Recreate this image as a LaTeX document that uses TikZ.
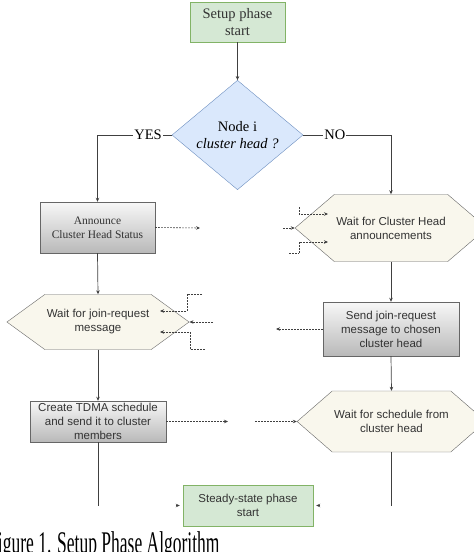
\documentclass[tikz,border=0pt]{standalone}
\usepackage{fontspec}
\setmainfont{Liberation Serif}
\setsansfont{Liberation Sans}
\usetikzlibrary{shapes.geometric,shapes.symbols,arrows.meta}
\definecolor{startgreen}{HTML}{D5E8D4}
\definecolor{startgreenline}{HTML}{82B366}
\definecolor{decisionblue}{HTML}{DAE8FC}
\definecolor{decisionblueline}{HTML}{6C8EBF}
\definecolor{waitcream}{HTML}{F9F7ED}
\definecolor{flowgray}{HTML}{404040}
\definecolor{textgray}{HTML}{333333}

\begin{document}
\begin{tikzpicture}[x=1pt, y=1pt,
    startbox/.style={draw=startgreenline, fill=startgreen, text=textgray, align=center, inner sep=2pt},
    actionbox/.style={draw=flowgray!80, top color=gray!6, bottom color=gray!55, text=textgray, align=center, inner sep=2pt},
    waitbox/.style={signal, signal to=west and east, draw=flowgray!80, fill=waitcream, text=textgray, align=center, inner sep=2pt},
    flow/.style={draw=flowgray, line width=0.7pt, -{Stealth[length=4pt,width=3.5pt]}},
    plainflow/.style={draw=flowgray, line width=0.7pt},
    dotflow/.style={draw=flowgray, line width=0.6pt, dash pattern=on 1.6pt off 1.4pt, -{Stealth[length=4pt,width=3.5pt]}},
    dotline/.style={draw=flowgray, line width=0.6pt, dash pattern=on 1.6pt off 1.4pt},
    sanstext/.style={font=\sffamily\fontsize{11.5}{14}\selectfont},
    seriftext/.style={font=\fontsize{14.5}{17}\selectfont}]
    % Setup phase flow, left branch = cluster head, right branch = member node
    \clip (0,0) rectangle (474,-552);

    \node[startbox, seriftext, minimum width=95pt, minimum height=40pt] (setup) at (237.5,-22) {Setup phase\\start};
    \node[diamond, draw=decisionblueline, fill=decisionblue, text=black, seriftext, align=center, inner sep=0pt,
          minimum width=131pt, minimum height=87pt] (isch) at (237.5,-135) {Node i\\\textit{cluster head ?}};

    \node[actionbox, font=\fontsize{11.5}{14}\selectfont, minimum width=115pt, minimum height=51pt] (announce) at (97.5,-227.5) {Announce\\Cluster Head Status};
    \node[waitbox, sanstext, signal pointer angle=81, minimum width=156pt, minimum height=67pt] (waitch) at (391,-228) {Wait for Cluster Head\\announcements};

    \node[waitbox, sanstext, signal pointer angle=72, minimum width=150pt, minimum height=55pt] (waitjoin) at (98,-322) {Wait for join-request\\message};
    \node[actionbox, sanstext, minimum width=136pt, minimum height=54pt] (sendjoin) at (391,-329) {Send join-request\\message to chosen\\cluster head};

    \node[actionbox, sanstext, minimum width=136pt, minimum height=41pt] (tdma) at (98,-421.5) {Create TDMA schedule\\and send it to cluster\\members};
    \node[waitbox, sanstext, signal pointer angle=82, minimum width=163pt, minimum height=61pt] (waitsched) at (391.5,-421.5) {Wait for schedule from\\cluster head};

    \node[startbox, sanstext, minimum width=130pt, minimum height=41pt] (steady) at (248,-505.5) {Steady-state phase\\start};

    \node[anchor=north west, inner sep=0pt, text=black] (caption) at (-12,-531)
        {\scalebox{1}[1.8]{\fontsize{17.5}{20}\selectfont Figure 1. Setup Phase Algorithm}};

    % free ends of the cut connectors
    \coordinate (annout) at (200,-228);
    \coordinate (chin) at (283,-228);
    \coordinate (chtopa) at (299,-207);
    \coordinate (chtopb) at (328,-214);
    \coordinate (chbota) at (289,-253);
    \coordinate (chbotb) at (328,-242);
    \coordinate (sendout) at (276,-329);
    \coordinate (jointopa) at (202,-294);
    \coordinate (jointopb) at (160,-311);
    \coordinate (joinin) at (213,-322);
    \coordinate (joinbota) at (205,-349);
    \coordinate (joinbotb) at (160,-332);
    \coordinate (tdmaout) at (228,-421.5);
    \coordinate (schedin) at (255,-421.5);
    \coordinate (leftend) at (98,-505.5);
    \coordinate (rightend) at (391.5,-505.5);

    % solid flow
    \draw[flow] (setup) -- (isch);
    \draw[flow] (isch.west) -| node[pos=0.16, fill=white, inner sep=1pt, seriftext] {YES} (announce.north);
    \draw[flow] (isch.east) -| node[pos=0.18, fill=white, inner sep=1pt, seriftext] {NO} (waitch.north);
    \draw[flow] (waitch.south) -- (sendjoin.north);
    \draw[flow] (announce.south) -- (waitjoin.north);
    \draw[flow] (waitjoin.south) -- (tdma.north);
    \draw[flow] (sendjoin.south) -- (waitsched.north);
    \draw[plainflow] (tdma.south) -- (leftend);
    \draw[plainflow] (waitsched.south) -- (rightend);
    \draw[flow] ([xshift=-7pt]steady.west) -- ([xshift=-3pt]steady.west);
    \draw[flow] ([xshift=7pt]steady.east) -- ([xshift=3pt]steady.east);

    % dotted messages
    \draw[dotflow] (announce.east) -- (annout);
    \draw[dotflow] (chin) -- (waitch.west);
    \draw[dotflow] (chtopa) |- (chtopb);
    \draw[dotline] (chbota) -- ++(10,0);
    \draw[dotflow] (chbota) ++(10,0) |- (chbotb);
    \draw[dotflow] (sendjoin.west) -- (sendout);
    \draw[dotline] (jointopa) -- ++(-15,0);
    \draw[dotflow] (jointopa) ++(-15,0) |- (jointopb);
    \draw[dotflow] (joinin) -- (waitjoin.east);
    \draw[dotline] (joinbota) -- ++(-15,0);
    \draw[dotflow] (joinbota) ++(-15,0) |- (joinbotb);
    \draw[dotflow] (tdma.east) -- (tdmaout);
    \draw[dotflow] (schedin) -- (waitsched.west);
\end{tikzpicture}
\end{document}
